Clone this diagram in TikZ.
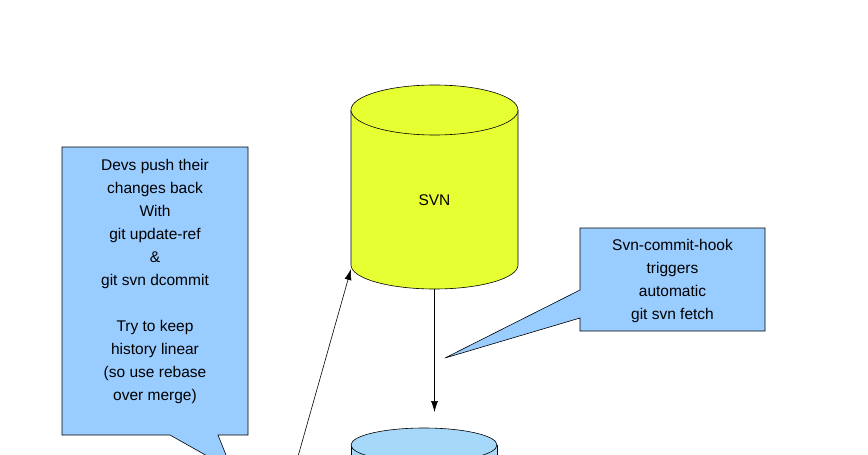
\documentclass[tikz,border=0pt]{standalone}
\usepackage{fontspec}
\setmainfont{Liberation Sans}
\usetikzlibrary{arrows.meta}
\begin{document}
\begin{tikzpicture}[x=1pt,y=-1pt,
  callout/.style={fill=calloutblue,draw=black,line width=0.6pt},
  txt/.style={font=\fontsize{15.5}{23}\selectfont,align=center},
  cyl/.style={draw=black,line width=0.6pt},
  arr/.style={-{Latex[length=11pt,width=7pt]},line width=0.6pt}]
\definecolor{calloutblue}{HTML}{99CCFF}
\definecolor{svnyellow}{HTML}{E6FF33}
\definecolor{gitblue}{HTML}{A6D8FA}
\useasboundingbox (0,0) rectangle (868,455);
% SVN cylinder
\fill[svnyellow] (351,110) -- (351,265) arc[start angle=180,end angle=0,x radius=83.5,y radius=24] -- (518,110) -- cycle;
\draw[cyl] (351,110) -- (351,265) arc[start angle=180,end angle=0,x radius=83.5,y radius=24] -- (518,110);
\draw[cyl,fill=svnyellow] (434.5,110) ellipse[x radius=83.5,y radius=25];
\node[txt] (svn) at (434.5,200) {SVN};
\coordinate (svnb) at (434.5,289);
% lower cylinder
\fill[gitblue] (351,445) rectangle (497,460);
\draw[cyl] (351,445) -- (351,460) (497,445) -- (497,460);
\draw[cyl,fill=gitblue] (424,445) ellipse[x radius=73,y radius=17];
\coordinate (gittop) at (434.5,412);
\draw[arr] (svnb) -- (gittop);
\coordinate (a1) at (297,460);
\coordinate (a2) at (351,269);
\draw[arr] (a1) -- (a2);
% left callout
\draw[callout] (62,147) -- (248,147) -- (248,435) -- (218,435) -- (232,470) -- (170,435) -- (62,435) -- cycle;
\node[txt] (left) at (155,281) {Devs push their\\changes back\\With\\git update-ref\\\&\\git svn dcommit\\[23pt]Try to keep\\history linear\\(so use rebase\\over merge)};
% right callout
\draw[callout] (580,228) -- (765,228) -- (765,331) -- (580,331) -- (580,318) -- (445,358) -- (580,290) -- cycle;
\node[txt] (right) at (672.5,281) {Svn-commit-hook\\triggers\\automatic\\git svn fetch};
\end{tikzpicture}
\end{document}
